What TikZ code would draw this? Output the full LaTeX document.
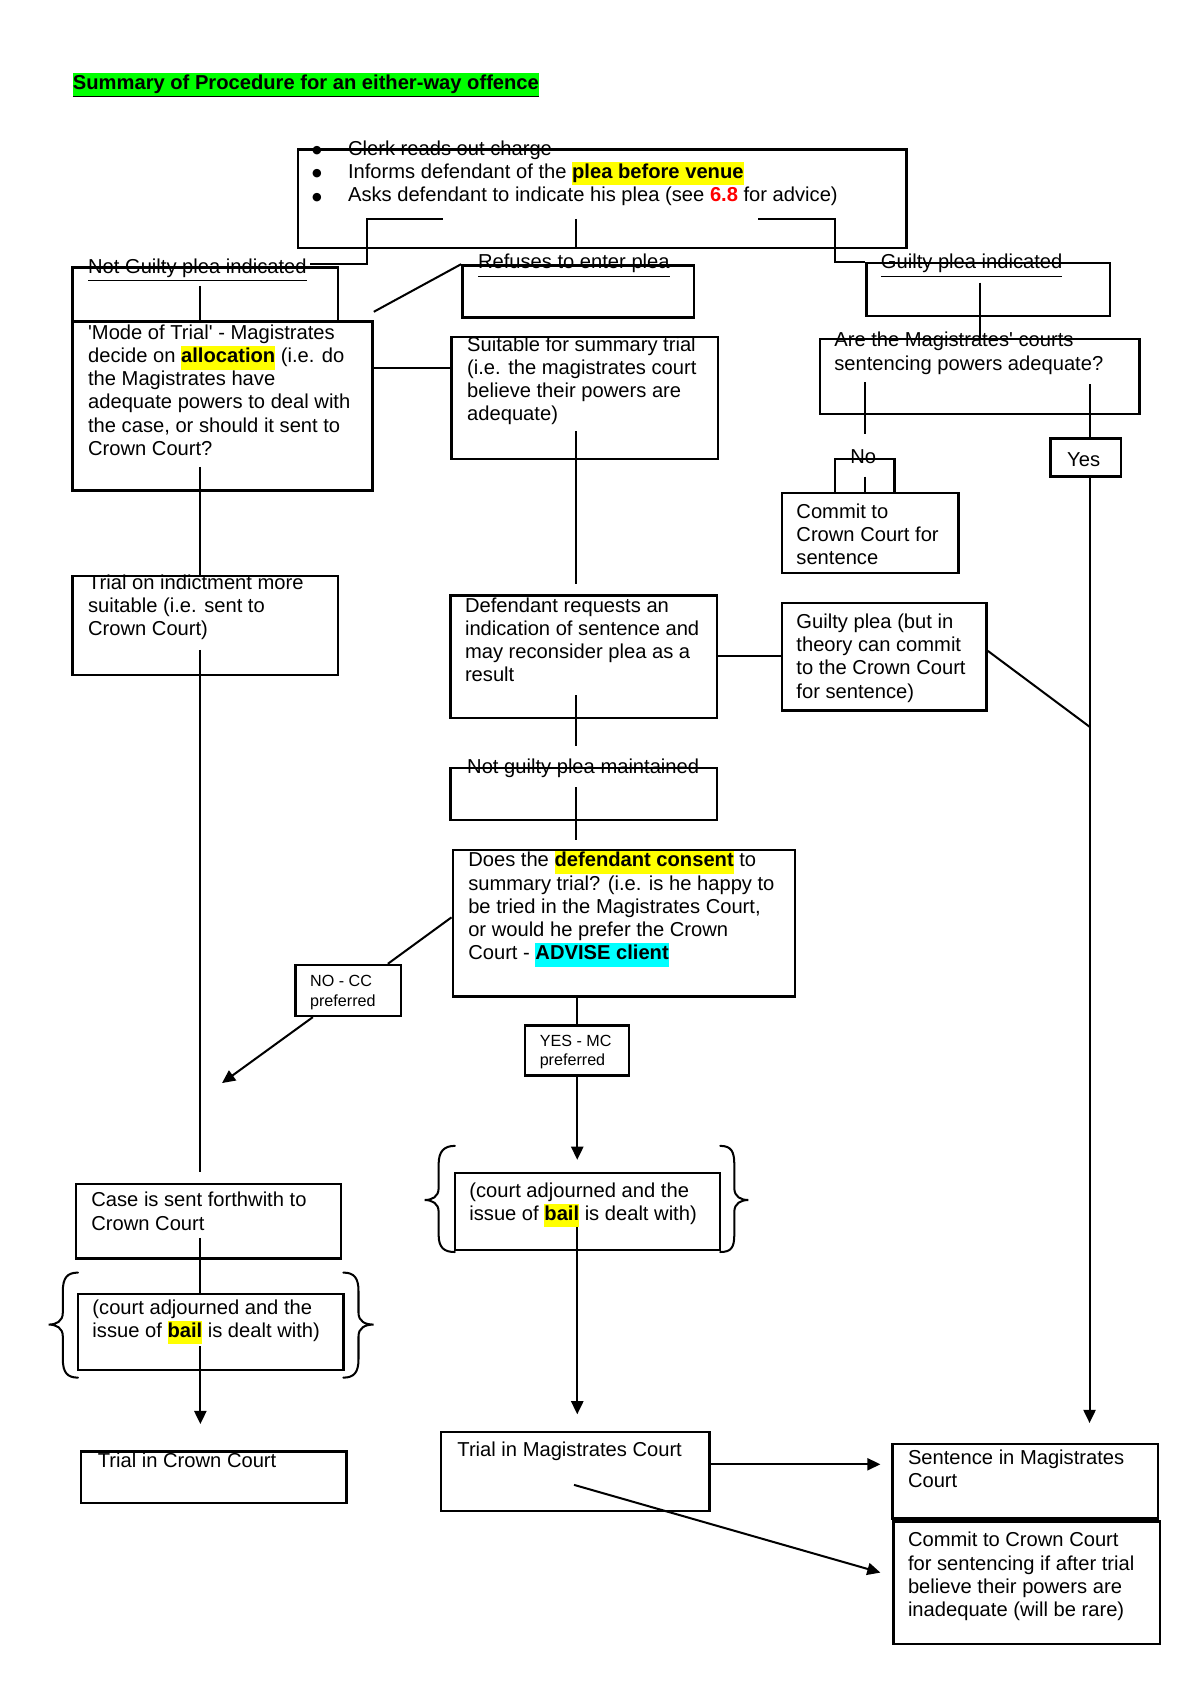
\documentclass[tikz,border=0pt]{standalone}
\usepackage{fontspec}
\setmainfont{Liberation Sans}
\newfontfamily\dejavu{DejaVu Sans}
\usetikzlibrary{arrows.meta,calc,fit}
\definecolor{hlyellow}{RGB}{255,255,0}
\definecolor{hlcyan}{RGB}{0,255,255}
\definecolor{hlgreen}{RGB}{0,255,0}
\definecolor{numred}{RGB}{255,0,0}
\newcommand{\hlbox}[2]{{\setlength{\fboxsep}{0pt}\colorbox{#1}{\strut #2}}}
\newcommand{\bul}{\llap{\raisebox{0.8pt}{\dejavu\fontsize{5.5}{6}\selectfont ●}\hspace{13pt}}}
\begin{document}
\begin{tikzpicture}[x=0.5373pt,y=-0.5373pt,
 box/.style={draw, line width=1.2pt, inner sep=0pt},
 txt/.style={anchor=north west, inner sep=0pt, align=left, font=\fontsize{10}{11.5}\selectfont},
 small/.style={anchor=north west, inner sep=0pt, align=left, font=\fontsize{8}{9.7}\selectfont},
 conn/.style={line width=1pt},
 arr/.style={line width=1pt, -{Triangle[length=6.5pt,width=6pt]}},
 brace/.style={line width=1pt, line cap=round}]
\useasboundingbox (0,0) rectangle (1108,1567.8);

% title
\node[anchor=north west, inner sep=0pt, font=\fontsize{10}{11.5}\selectfont\bfseries] (title) at (67,67) {\hlbox{hlgreen}{\underline{Summary of Procedure for an either-way offence}}};

% boxes
\node[box, fit={(275,138) (837,229)}] (topbox) {};
\node[box, fit={(67,247) (312,297)}] (ngbox) {};
\node[box, fit={(427,245) (641,293)}] (refbox) {};
\node[box, fit={(800,243) (1025,292)}] (gbox) {};
\node[box, fit={(67,297) (344,453)}] (mode) {};
\node[box, fit={(417,311) (663,424)}] (sui) {};
\node[box, fit={(757,313) (1052,382)}] (arebox) {};
\node[box, fit={(771,424) (826,455)}] (nobox) {};
\node[box, fit={(970,405) (1035,440)}] (yesbox) {};
\node[box, fit={(722,455) (885,529)}] (commit1) {};
\node[box, fit={(67,532) (312,623)}] (tind) {};
\node[box, fit={(416,550) (662,663)}] (defreq) {};
\node[box, fit={(722,557) (911,656)}] (gplea) {};
\node[box, fit={(416,709) (662,757)}] (ngm) {};
\node[box, fit={(418,785) (734,920)}] (does) {};
\node[box, fit={(273,891) (370,938)}] (nocc) {};
\node[box, fit={(485,947) (581,993)}] (yesmc) {};
\node[box, fit={(420,1083) (665,1154)}] (bailc) {};
\node[box, fit={(70,1093) (315,1162)}] (case) {};
\node[box, fit={(72,1195) (317,1265)}] (baill) {};
\node[box, fit={(75,1340) (320,1388)}] (tcc) {};
\node[box, fit={(407,1322) (655,1395)}] (tmc) {};
\node[box, fit={(824,1333) (1069,1402)}] (sent) {};
\node[box, fit={(825,1405) (1071,1518)}] (commit2) {};

% connectors
\coordinate (tA) at (409,202);
\coordinate (tB) at (532,202);
\coordinate (tC) at (700,202);
\draw[conn] (tA) -| ($(ngbox.north east)+(26,-2)$) -- ($(ngbox.north east)+(-27,-2)$);
\draw[conn] (tB) -- (tB |- topbox.south);
\draw[conn] (tC) -| ($(gbox.north west)+(-28,0)$) -- (gbox.north west);
\coordinate (ngA) at (185,264);
\draw[conn] (ngA) -- (ngA |- mode.north);
\draw[conn] (refbox.north west) -- ($(mode.north east)+(0,-8)$);
\coordinate (gA) at (905,261);
\draw[conn] (gA) -- (gA |- arebox.north);
\draw[conn] (mode.east |- 0,340) -- (sui.west |- 0,340);
\coordinate (mA) at (185,431);
\draw[conn] (mA) -- (mA |- tind.north);
\coordinate (sA) at (532,398);
\draw[conn] (sA) -- ($(sA |- defreq.north)+(0,-10)$);
\coordinate (aA) at (799,353);
\draw[conn] (aA) -- ($(aA |- nobox.north)+(0,-22)$);
\coordinate (nA) at (799,440);
\draw[conn] (nA) -- (nA |- commit1.north);
\coordinate (aB) at (1006,355);
\draw[conn] (aB) -- (aB |- yesbox.north);
\draw[arr] (yesbox.south -| aB) -- ($(sent.north -| aB)+(0,-18)$);
\coordinate (gJ) at (1006,671);
\draw[conn] (gplea.east |- 0,601) -- (gJ);
\draw[conn] (defreq.east |- 0,606) -- (gplea.west |- 0,606);
\coordinate (dA) at (532,642);
\draw[conn] (dA) -- ($(dA |- ngm.north)+(0,-19)$);
\coordinate (ngmA) at (532,727);
\draw[conn] (ngmA) -- ($(ngmA |- does.north)+(0,-8)$);
\draw[conn] (does.west |- 0,847) -- ($(nocc.north east)+(-13,0)$);
\coordinate (ccEnd) at (205,1000);
\draw[arr] ($(nocc.south west)+(17,0)$) -- (ccEnd);
\draw[conn] (does.south -| yesmc.north) -- (yesmc.north);
\draw[arr] (yesmc.south) -- ($(bailc.north -| yesmc.south)+(0,-11)$);
\coordinate (bcA) at (533,1128);
\draw[arr] (bcA) -- ($(tmc.north -| bcA)+(0,-15)$);
\draw[arr] (tmc.east |- 0,1352) -- ($(sent.west |- 0,1352)+(-10,0)$);
\coordinate (tmA) at (530,1371);
\draw[arr] (tmA) -- ($(commit2.west |- 0,1452)+(-11,0)$);
\coordinate (tiA) at (185,600);
\draw[conn] (tiA) -- ($(tiA |- case.north)+(0,-10)$);
\coordinate (csA) at (185,1143);
\draw[conn] (csA) -- (csA |- baill.north);
\coordinate (blA) at (185,1243);
\draw[arr] (blA) -- ($(tcc.north -| blA)+(0,-24)$);

% braces
\draw[brace] (72,1175) .. controls (62,1175) and (58,1180) .. (58,1192) -- (58,1212) .. controls (58,1220) and (52,1223) .. (45,1223) .. controls (52,1223) and (58,1226) .. (58,1234) -- (58,1255) .. controls (58,1267) and (62,1272) .. (72,1272);
\draw[brace] (317,1175) .. controls (327,1175) and (331,1180) .. (331,1192) -- (331,1212) .. controls (331,1220) and (337,1223) .. (345,1223) .. controls (337,1223) and (331,1226) .. (331,1234) -- (331,1255) .. controls (331,1267) and (327,1272) .. (317,1272);
\draw[brace] (420,1058) .. controls (410,1058) and (405,1063) .. (405,1075) -- (405,1097) .. controls (405,1105) and (399,1108) .. (392,1108) .. controls (399,1108) and (405,1111) .. (405,1119) -- (405,1140) .. controls (405,1152) and (410,1156) .. (420,1156);
\draw[brace] (665,1058) .. controls (675,1058) and (678,1063) .. (678,1075) -- (678,1097) .. controls (678,1105) and (684,1108) .. (691,1108) .. controls (684,1108) and (678,1111) .. (678,1119) -- (678,1140) .. controls (678,1152) and (675,1156) .. (665,1156);

% texts
\node[txt] (ttop) at (321,128) {\strut\bul Clerk reads out charge\\\bul Informs defendant of the \hlbox{hlyellow}{\textbf{plea before venue}}\\\bul Asks defendant to indicate his plea (see \textcolor{numred}{\textbf{6.8}} for advice)};
\node[txt] (tng) at (81,237) {\strut\underline{Not Guilty plea indicated}};
\node[txt] (tref) at (441,233) {\strut\underline{Refuses to enter plea}};
\node[txt] (tg) at (813,233) {\strut\underline{Guilty plea indicated}};
\node[txt] (tmode) at (81,298) {\strut\textquotesingle Mode of Trial\textquotesingle\ - Magistrates\\decide on \hlbox{hlyellow}{\textbf{allocation}} (i.e. do\\the Magistrates have\\adequate powers to deal with\\the case, or should it sent to\\Crown Court?};
\node[txt] (tsui) at (431,309) {\strut Suitable for summary trial\\(i.e. the magistrates court\\believe their powers are\\adequate)};
\node[txt] (tare) at (770,305) {\strut Are the Magistrates\textquotesingle\ courts\\sentencing powers adequate?};
\node[txt, anchor=north] (tno) at (797,413) {\strut No};
\node[txt] (tyes) at (985,415) {\strut Yes};
\node[txt] (tcom1) at (735,463) {\strut Commit to\\Crown Court for\\sentence};
\node[txt] (ttind) at (81,529) {\strut Trial on indictment more\\suitable (i.e. sent to\\Crown Court)};
\node[txt] (tdef) at (429,550) {\strut Defendant requests an\\indication of sentence and\\may reconsider plea as a\\result};
\node[txt] (tgp) at (735,565) {\strut Guilty plea (but in\\theory can commit\\to the Crown Court\\for sentence)};
\node[txt] (tngm) at (431,699) {\strut Not guilty plea maintained};
\node[txt] (tdoes) at (432,785) {\strut Does the \hlbox{hlyellow}{\textbf{defendant consent}} to\\summary trial? (i.e. is he happy to\\be tried in the Magistrates Court,\\or would he prefer the Crown\\Court - \hlbox{hlcyan}{\textbf{ADVISE client}}};
\node[small] (tnocc) at (286,898) {\strut NO - CC\\preferred};
\node[small] (tyesmc) at (498,953) {\strut YES - MC\\preferred};
\node[txt] (tbailc) at (433,1090) {\strut(court adjourned and the\\issue of \hlbox{hlyellow}{\textbf{bail}} is dealt with)};
\node[txt] (tcase) at (84,1099) {\strut Case is sent forthwith to\\Crown Court};
\node[txt] (tbaill) at (85,1198) {\strut(court adjourned and the\\issue of \hlbox{hlyellow}{\textbf{bail}} is dealt with)};
\node[txt] (ttcc) at (90,1340) {\strut Trial in Crown Court};
\node[txt] (ttmc) at (422,1329) {\strut Trial in Magistrates Court};
\node[txt] (tsent) at (838,1337) {\strut Sentence in Magistrates\\Court};
\node[txt] (tcom2) at (838,1413) {\strut Commit to Crown Court\\for sentencing if after trial\\believe their powers are\\inadequate (will be rare)};
\end{tikzpicture}
\end{document}
